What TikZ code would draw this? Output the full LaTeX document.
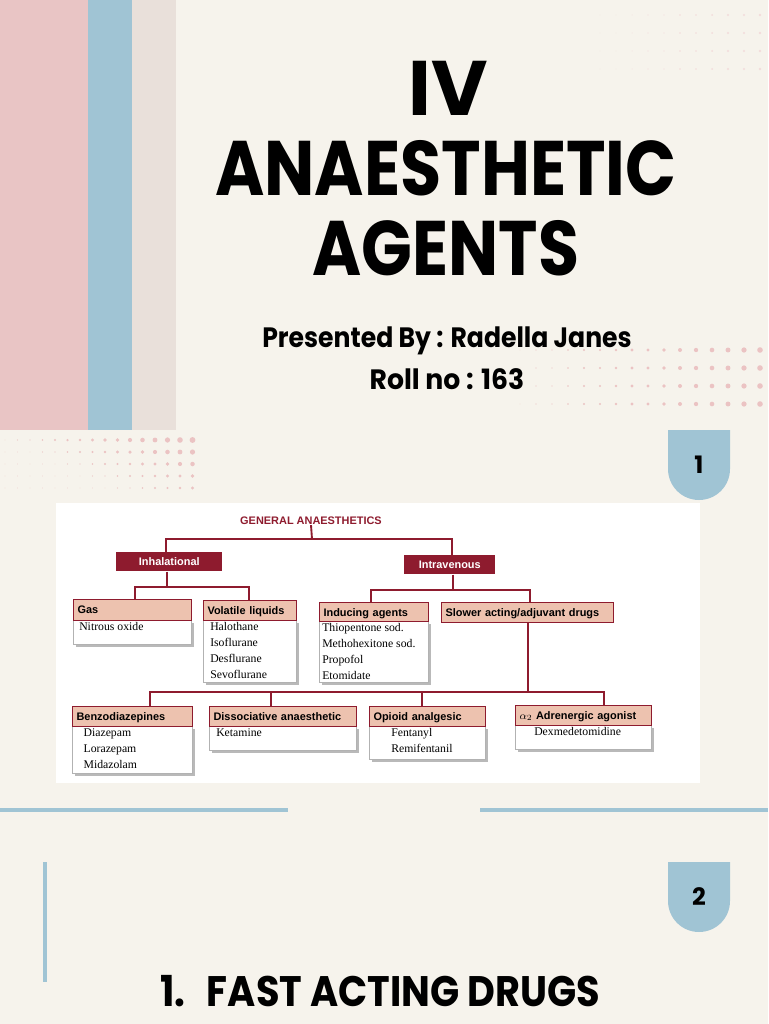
\documentclass[tikz,border=0pt]{standalone}
\usepackage{fontspec}
\usepackage{graphicx}
\setmainfont{Liberation Serif}
\newfontfamily\pop{Poppins}
\newfontfamily\hds{Liberation Sans}
\definecolor{bg}{HTML}{F6F3EC}
\definecolor{pinkc}{HTML}{E9C5C5}
\definecolor{bluec}{HTML}{A0C4D4}
\definecolor{beigec}{HTML}{E9E0DA}
\definecolor{dotc}{HTML}{EBC3C3}
\definecolor{dred}{HTML}{8E1B2E}
\definecolor{peach}{HTML}{EDC2AF}
\newcommand{\wfit}[2]{\resizebox{#1}{\height}{#2}}
\tikzset{
  ttl/.style={inner sep=0pt,anchor=base,font=\pop\bfseries\fontsize{58}{58}\selectfont,text=black},
  sub/.style={inner sep=0pt,anchor=base,font=\pop\bfseries\fontsize{21}{21}\selectfont,text=black},
  redbox/.style={fill=dred,inner sep=0pt,anchor=north west},
  redtxt/.style={text=white,font=\hds\bfseries\fontsize{8.2}{9}\selectfont,inner sep=0pt},
  hdr/.style={fill=peach,draw=dred,line width=0.8pt,font=\hds\bfseries\fontsize{8.2}{9}\selectfont,inner xsep=3pt,inner ysep=0pt,anchor=north west,align=left,text depth=0pt},
  conn/.style={draw=dred,line width=1.4pt},
  body/.style={fill=white,draw=gray!60,line width=0.5pt},
  bodytxt/.style={font=\fontsize{8.8}{12}\selectfont,align=left,inner sep=0pt,anchor=north west},
}
% \bx{name}{x1}{y1}{x2}{yh}{y2}{header}{bodytext}{bodyx}
\newcommand{\bx}[9]{%
  \fill[gray!55] (#2+3,#5+3) rectangle (#4+3,#6+3);
  \path[body] (#2,#5) rectangle (#4,#6);
  \node[hdr,text width={(#4-#2)*0.75pt-6pt},minimum height={(#5-#3)*0.75pt}] (#1) at (#2,#3) {#7};
  \node[bodytxt] (#1t) at (#9,#5+2) {#8};
}
\begin{document}
\begin{tikzpicture}[x=0.75pt,y=-0.75pt]
\fill[bg] (0,0) rectangle (768,1024);
\useasboundingbox (0,0) rectangle (768,1024);
% side bars
\fill[pinkc] (0,0) rectangle (88,430);
\fill[bluec] (88,0) rectangle (132,430);
\fill[beigec] (132,0) rectangle (176,430);
% dot patterns
\foreach \r in {0,...,3}{
  \foreach \i in {0,...,15}{
    \fill[dotc] ({520+\i*16},{350+\r*18}) circle ({(0.4+\i*0.16)*0.75pt});
  }
}
\foreach \r in {0,...,4}{
  \foreach \i in {0,...,15}{
    \pgfmathsetmacro{\rad}{max(0.3,(0.4+\i*0.17-\r*0.35))}
    \fill[dotc] ({5+\i*12.5},{440+\r*12}) circle ({\rad*0.75pt});
  }
}
\foreach \r in {0,...,3}{
  \foreach \i in {0,...,10}{
    \fill[dotc!60] ({600+\i*16},{15+\r*18}) circle ({(0.3+\i*0.1)*0.75pt});
  }
}
% title
\node[ttl] (t1) at (448,115) {IV};
\node[ttl] (t2) at (446,195) {\wfit{346pt}{ANAESTHETIC}};
\node[ttl] (t3) at (446,275) {\wfit{200pt}{AGENTS}};
\node[sub] (s1) at (447,347) {\wfit{277pt}{Presented By : Radella Janes}};
\node[sub] (s2) at (447,389) {\wfit{116pt}{Roll no : 163}};
% badges
\fill[bluec] (668,430) -- (730,430) -- (730,469) arc[start angle=0,end angle=-180,radius=23.25pt] -- cycle;
\node[sub,font=\pop\bfseries\fontsize{18}{18}\selectfont] (b1) at (699,473) {1};
\fill[bluec] (668,862) -- (730,862) -- (730,901) arc[start angle=0,end angle=-180,radius=23.25pt] -- cycle;
\node[sub,font=\pop\bfseries\fontsize{18}{18}\selectfont] (b2) at (699,905) {2};
% separators
\fill[bluec] (0,808) rectangle (288,812);
\fill[bluec] (480,808) rectangle (768,812);
\fill[bluec] (43,862) rectangle (47,982);
\node[sub,anchor=base west,font=\pop\bfseries\fontsize{32}{32}\selectfont] (h2) at (160,1006) {\wfit{330pt}{1.\hspace{18pt}FAST ACTING DRUGS}};
% diagram
\fill[white] (56,503) rectangle (700,783);
\node[inner sep=0pt,text=dred,font=\hds\bfseries\fontsize{8.2}{9}\selectfont] (ga) at (311,521) {GENERAL ANAESTHETICS};
\node[redbox,minimum width={106*0.75pt},minimum height={19*0.75pt}] (inh) at (116,552) {};
\node[redtxt] at (inh.center) {Inhalational};
\node[redbox,minimum width={91*0.75pt},minimum height={19*0.75pt}] (intr) at (404,555) {};
\node[redtxt] at (intr.center) {Intravenous};
\bx{gas}{73}{599}{191}{620}{644}{Gas}{Nitrous oxide}{79}
\bx{vol}{203}{600}{296}{620}{682}{Volatile liquids}{Halothane\\Isoflurane\\Desflurane\\Sevoflurane}{210}
\bx{ind}{319}{602}{428}{621}{682}{Inducing agents}{Thiopentone sod.\\Methohexitone sod.\\Propofol\\Etomidate}{322}
\node[hdr,text width={172*0.75pt-6pt},minimum height={20*0.75pt}] (slow) at (441,602) {Slower acting/adjuvant drugs};
\bx{benz}{72}{706}{192}{726}{773}{Benzodiazepines}{\hspace{4pt}Diazepam\\\hspace{4pt}Lorazepam\\\hspace{4pt}Midazolam}{78}
\bx{dis}{209}{706}{356}{726}{750}{Dissociative anaesthetic}{Ketamine}{216}
\bx{opi}{369}{706}{485}{726}{759}{Opioid analgesic}{Fentanyl\\Remifentanil}{391}
\bx{alp}{515}{705}{651}{725}{749}{$\alpha_2$ Adrenergic agonist}{Dexmedetomidine}{534}
% connectors
\draw[conn] (ga.south) -- (312,539);
\draw[conn] (inh.north -| 166,0) -- (166,539) -- (452,539) -- (intr.north -| 452,0);
\draw[conn] (inh.south -| 167,0) -- (167,587);
\draw[conn] (gas.north -| 135,0) -- (135,587) -- (249,587) -- (vol.north -| 249,0);
\draw[conn] (intr.south -| 453,0) -- (453,590);
\draw[conn] (ind.north -| 371,0) -- (371,590) -- (530,590) -- (slow.north -| 530,0);
\draw[conn] (slow.south -| 528,0) -- (528,692);
\draw[conn] (benz.north -| 150,0) -- (150,692) -- (604,692) -- (alp.north -| 604,0);
\draw[conn] (271,692) -- (dis.north -| 271,0);
\draw[conn] (422,692) -- (opi.north -| 422,0);
\end{tikzpicture}
\end{document}
